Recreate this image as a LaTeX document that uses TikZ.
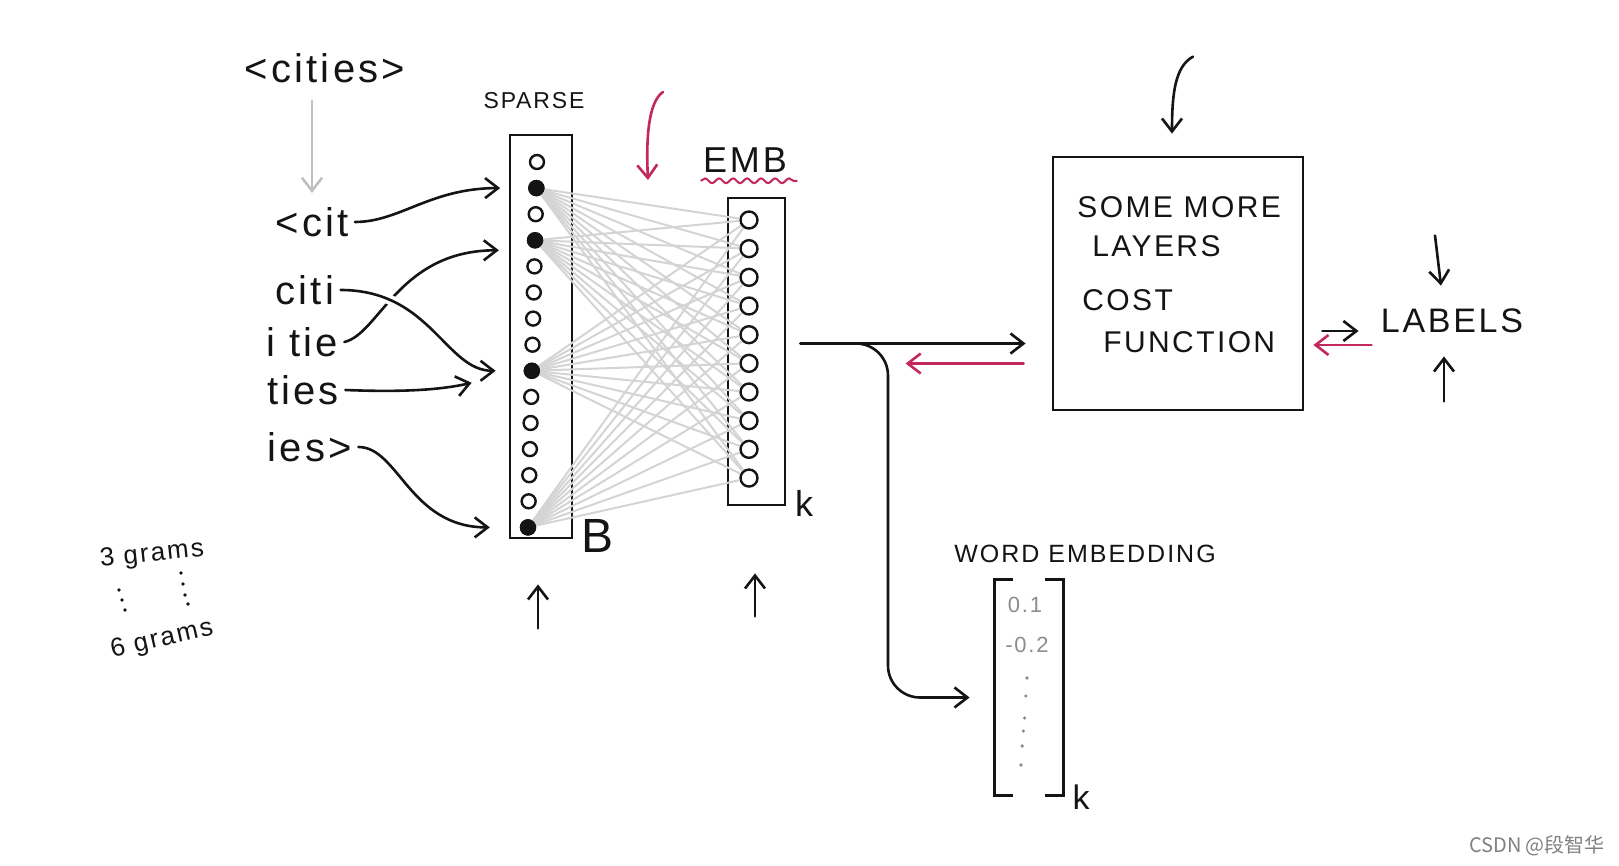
\documentclass[tikz,border=0pt]{standalone}
\usepackage{fontspec}
\setmainfont{Liberation Sans}
\newfontfamily\handfam[LetterSpace=8]{Liberation Sans}
\newfontfamily\cjk{Noto Sans CJK SC}
\usetikzlibrary{arrows.meta,decorations.pathmorphing}
\definecolor{ink}{RGB}{20,20,20}
\definecolor{inkred}{RGB}{196,40,90}
\definecolor{wiregray}{RGB}{212,212,212}
\newcommand{\inkfont}[1]{\handfam\fontsize{#1}{#1}\selectfont}
\tikzset{txt/.style={font=\inkfont{20},text=ink,inner sep=3pt},
  captext/.style={font=\inkfont{15},text=ink,inner sep=2pt},
  val/.style={font=\inkfont{11},text=black!45,inner sep=1pt},
  flow/.style={-{Straight Barb[length=6.5pt,width=10pt]},line width=1.3pt,line cap=round,ink},
  redflow/.style={flow,inkred},
  col/.style={draw=ink,line width=1.4pt,inner sep=0pt},
  unit/.style={circle,draw=ink,line width=1.2pt,fill=white,minimum size=7pt,inner sep=0pt},
  hot/.style={unit,fill=ink},
  link/.style={wiregray,line width=1pt},
  bracket/.style={ink,line width=1.4pt}}

\begin{document}
\begin{tikzpicture}[x=0.5pt, y=-0.5pt]
\useasboundingbox (0,0) rectangle (1619,866);

% n-grams of the word
\node[txt] (cities) at (325,68) {<cities>};
\node[txt] (cit) at (312,222) {<cit};
\node[txt] (citi) at (305,290) {citi};
\node[txt] (itie) at (302,342) {i tie};
\node[txt] (ties) at (303,390) {ties};
\node[txt] (ies) at (310,447) {ies>};
\node[txt, font=\inkfont{13}, rotate=6] (g3) at (152,555) {3 grams};
\node[txt, font=\inkfont{13}, rotate=13] (g6) at (162,640) {6 grams};
\foreach \p in {(119,590),(122,600),(125,610),(181,573),(183,584),(185,595),(188,604)}
  \fill[ink] \p circle (0.9pt);

% sparse input and embedding columns
\node[col, minimum width=31pt, minimum height=201.5pt] (sparse) at (541,336.5) {};
\node[captext, font=\inkfont{11.5}] (sparselbl) at (534,101) {SPARSE};
\node[txt, font=\inkfont{24}] (B) at (598,536) {B};
\foreach \i in {0,...,14} \node[unit] (s\i) at ({537-9*\i/14},{162+26.1*\i}) {};
\node[col, minimum width=28.5pt, minimum height=153.5pt] (embcol) at (756.5,351.5) {};
\foreach \j in {0,...,9} \node[unit, minimum size=8.5pt] (e\j) at (749,{220+28.67*\j}) {};
\node[txt, font=\inkfont{18}, inner sep=1pt] (emb) at (745,160) {EMB};
\draw[inkred, line width=1pt, decorate, decoration={snake,amplitude=1.2pt,segment length=7pt}]
  ([yshift=-3pt]emb.south west) -- ([xshift=4pt,yshift=-3pt]emb.south east);
\node[txt, font=\inkfont{18}] (k1) at (804,503) {k};
\foreach \i in {1,3,8,14} \foreach \j in {0,...,9} \draw[link] (s\i) -- (e\j);
\foreach \i in {1,3,8,14} \node[hot] (h\i) at (s\i) {};

% layers on top
\node[col, minimum width=125pt, minimum height=126.5pt] (layers) at (1178,283.5) {};
\node[captext, anchor=west] (some) at (1073,207) {SOME MORE};
\node[captext, anchor=west] (lay) at (1088,246) {LAYERS};
\node[captext, anchor=west] (cost) at (1078,300) {COST};
\node[captext, anchor=west] (func) at (1099,342) {FUNCTION};
\node[captext, font=\inkfont{17}] (labels) at (1452,321) {LABELS};

% word embedding vector
\node[captext, font=\inkfont{12.5}] (wetitle) at (1085,554) {WORD EMBEDDING};
\node[minimum width=34pt, minimum height=107.5pt, inner sep=0pt] (wvec) at (1029,687.5) {};
\draw[bracket] ([xshift=9pt]wvec.north west) -- (wvec.north west) -- (wvec.south west) -- ([xshift=9pt]wvec.south west);
\draw[bracket] ([xshift=-9pt]wvec.north east) -- (wvec.north east) -- (wvec.south east) -- ([xshift=-9pt]wvec.south east);
\node[val] (v1) at (1025,605) {0.1};
\node[val] (v2) at (1027,645) {-0.2};
\foreach \d/\y in {0/678,1/696,2/718,3/731,4/746,5/765} \fill[black!45] ({1027-1.2*\d},\y) circle (0.9pt);
\node[txt, font=\inkfont{17}] (k2) at (1081,797) {k};

% arrows
\draw[flow, black!25, shorten <=6pt, shorten >=4pt] (cities.south -| cit.north) -- (cit.north);
\draw[flow] (cit.east) .. controls +(45,0) and +(-70,0) .. ([xshift=-14pt]s1.west);
\draw[flow] (itie.east) .. controls +(35,-8) and +(-100,0) .. ([xshift=-14pt,yshift=-5pt]s3.west);
\draw[flow, preaction={draw=white,line width=5pt,arrows=-}] (citi.east) .. controls +(90,0) and +(-50,0) .. ([xshift=-14pt]s8.west);
\draw[flow] (ties.east) .. controls +(50,2) and +(-35,8) .. ([xshift=-26pt,yshift=-6pt]s8.west);
\draw[flow] (ies.east) .. controls +(40,0) and +(-80,0) .. ([xshift=-15pt]s14.west);
\coordinate (rtop) at (663,92);
\coordinate (rtip) at (648,180);
\draw[redflow] (rtop) .. controls (648,102) and (646,140) .. (rtip);
\draw[flow] ([xshift=-1.5pt,yshift=-44.5pt]sparse.south) -- ([xshift=-1.5pt,yshift=-22.5pt]sparse.south);
\draw[flow] ([xshift=-0.75pt,yshift=-55pt]embcol.south) -- ([xshift=-0.75pt,yshift=-33.5pt]embcol.south);
\coordinate (embout) at ([xshift=7pt,yshift=4pt]embcol.east);
\draw[flow, shorten >=13pt] (embout) -- (embout -| layers.west);
\draw[flow, rounded corners=16pt] (embout) -| (888,600) |- ([xshift=-12.5pt,yshift=-5pt]wvec.west);
\draw[redflow] ([xshift=-14pt,yshift=-40pt]layers.west) -- ++(-118,0);
\draw[flow] ([xshift=7.5pt,yshift=49.5pt]layers.north) .. controls +(-18,10) and +(0,-40) .. ([xshift=-3pt,yshift=11pt]layers.north);
\coordinate (lblin) at ([yshift=-5pt]labels.west);
\coordinate (lblout) at ([yshift=-12pt]labels.west);
\draw[flow, shorten <=9pt, shorten >=9pt] (lblin -| layers.east) -- (lblin);
\draw[redflow, shorten <=2.5pt, shorten >=4.5pt] (lblout) -- (lblout -| layers.east);
\draw[flow] ([xshift=-8.5pt,yshift=34.5pt]labels.north) -- ([xshift=-5.5pt,yshift=9.5pt]labels.north);
\draw[flow] ([xshift=-4pt,yshift=-32pt]labels.south) -- ([xshift=-4pt,yshift=-9.5pt]labels.south);

\node[font=\cjk\fontsize{10}{12}\selectfont, text=black!50] (wm) at (1537,846) {CSDN @段智华};
\end{tikzpicture}
\end{document}
